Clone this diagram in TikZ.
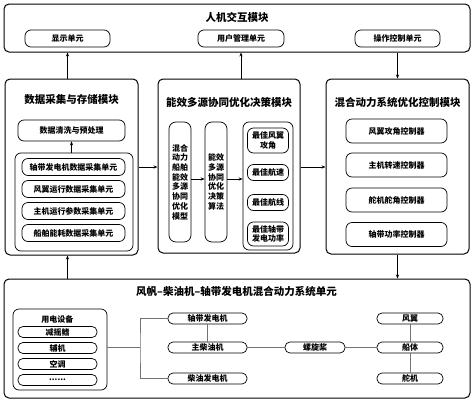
\documentclass[tikz,border=0pt]{standalone}
\usepackage{fontspec}
\setmainfont{Noto Sans CJK SC}
\usetikzlibrary{arrows.meta, positioning, calc}

\begin{document}
\begin{tikzpicture}[x=1pt, y=-1pt, >={Stealth[length=4pt,width=3.2pt]},
        every node/.style={inner sep=1pt, font=\fontsize{8}{9.7}\selectfont\bfseries},
        modbox/.style={draw, line width=1pt, rounded corners=5pt},
        unitbox/.style={draw, line width=0.7pt, rounded corners=6pt, align=center},
        pill/.style={draw, line width=0.7pt, rounded corners=5pt, minimum height=11, inner sep=0pt},
        heading/.style={font=\fontsize{10.5}{12}\selectfont\bfseries},
        wire/.style={draw=black!55, line width=0.5pt}]
        \useasboundingbox (0,0) rectangle (474,402);

        % Define human-machine module
        \node[modbox, minimum width=466, minimum height=48] (hmi) at (237,28) {};
        \node[heading] (hmiTitle) at (237,17) {人机交互模块};
        \node[unitbox, minimum width=85, minimum height=17] (dispUnit) at (67.5,38.5) {显示单元};
        \node[unitbox, minimum width=86, minimum height=17] (userUnit) at (241,38.5) {用户管理单元};
        \node[unitbox, minimum width=85, minimum height=17] (operUnit) at (397.5,38.5) {操作控制单元};

        % Define acquisition module on the left
        \node[modbox, minimum width=133, minimum height=176] (acq) at (71.5,167) {};
        \node[heading] (acqTitle) at (71.5,100) {数据采集与存储模块};
        \node[unitbox, minimum width=107, minimum height=21] (clean) at (71.5,130.5) {数据清洗与预处理};
        \node[unitbox, minimum width=118, minimum height=98] (acqGroup) at (74,202) {};
        \node[unitbox, minimum width=103, minimum height=17] (acqShaft) at (73.5,167) {轴带发电机数据采集单元};
        \node[unitbox, minimum width=103, minimum height=17] (acqWing) at (73.5,189) {风翼运行数据采集单元};
        \node[unitbox, minimum width=103, minimum height=17] (acqMain) at (73.5,211) {主机运行参数采集单元};
        \node[unitbox, minimum width=103, minimum height=17] (acqFuel) at (73.5,233) {船舶能耗数据采集单元};

        % Define decision module in the middle
        \node[modbox, minimum width=142, minimum height=174] (opt) at (229,166) {};
        \node[heading] (optTitle) at (229,102) {能效多源协同优化决策模块};
        \node[unitbox, rounded corners=7pt, minimum width=22, minimum height=120] (model) at (180,182) {混合\\动力\\船舶\\能效\\多源\\协同\\优化\\模型};
        \node[unitbox, rounded corners=7pt, minimum width=22, minimum height=120] (algo) at (216,182) {能效\\多源\\协同\\优化\\决策\\算法};
        \node[unitbox, minimum width=50, minimum height=128] (best) at (268,186) {};
        \node[unitbox, minimum width=41, minimum height=25] (bestWing) at (268,140.5) {最佳风翼\\攻角};
        \node[unitbox, minimum width=41, minimum height=16] (bestSpeed) at (268,172.5) {最佳航速};
        \node[unitbox, minimum width=41, minimum height=16] (bestRoute) at (268,202.5) {最佳航线};
        \node[unitbox, minimum width=41, minimum height=24] (bestPower) at (268,234) {最佳轴带\\发电功率};

        % Define control module on the right
        \node[modbox, minimum width=143, minimum height=175] (ctrl) at (397.5,166.5) {};
        \node[heading] (ctrlTitle) at (397.5,102) {混合动力系统优化控制模块};
        \node[unitbox, minimum width=101, minimum height=24] (ctrlWing) at (396.5,131) {风翼攻角控制器};
        \node[unitbox, minimum width=101, minimum height=24] (ctrlSpeed) at (396.5,165) {主机转速控制器};
        \node[unitbox, minimum width=101, minimum height=24] (ctrlRudder) at (396.5,200) {舵机舵角控制器};
        \node[unitbox, minimum width=101, minimum height=24] (ctrlPower) at (396.5,234.5) {轴带功率控制器};

        % Define hybrid power unit at the bottom
        \node[modbox, minimum width=466, minimum height=119] (hybrid) at (237,338.5) {};
        \node[heading] (hybridTitle) at (236.5,292) {风帆–柴油机–轴带发电机混合动力系统单元};
        \node[unitbox, minimum width=94, minimum height=81] (devGroup) at (60,349.5) {};
        \node (devTitle) at (57.5,319) {用电设备};
        \node[pill, minimum width=79] (devFin) at (57.5,332) {减摇鳍};
        \node[pill, minimum width=79] (devAux) at (57.5,348) {辅机};
        \node[pill, minimum width=79] (devAir) at (57.5,364) {空调};
        \node[pill, minimum width=79] (devMore) at (57.5,380) {......};
        \node[pill, minimum width=79] (shaftGen) at (207.5,318.5) {轴带发电机};
        \node[pill, minimum width=79] (mainEng) at (207.5,347.5) {主柴油机};
        \node[pill, minimum width=79] (dieselGen) at (207.5,378.5) {柴油发电机};
        \node[pill, minimum width=60] (prop) at (315,347.5) {螺旋桨};
        \node[pill, minimum width=66] (wing) at (410,318.5) {风翼};
        \node[pill, minimum width=66] (hull) at (410,347.5) {船体};
        \node[pill, minimum width=66] (rudder) at (410,378.5) {舵机};
        \coordinate (jn) at (140,347.5);

        % Draw arrows between the modules
        \draw[->, line width=0.8pt] (acq.north -| dispUnit) -- (hmi.south -| dispUnit);
        \draw[->, line width=0.8pt] (opt.north -| userUnit) -- (hmi.south -| userUnit);
        \draw[->, line width=0.8pt] (hmi.south -| operUnit) -- (ctrl.north -| operUnit);
        \draw[->, line width=0.8pt] (acq.east |- acqShaft) -- (opt.west |- acqShaft);
        \draw[->, line width=0.8pt] (opt.east |- acqShaft) -- (ctrl.west |- acqShaft);
        \draw[->, line width=0.8pt] (ctrl.south -| operUnit) -- (hybrid.north -| operUnit);
        \draw[->, line width=0.8pt] (hybrid.north -| dispUnit) -- (acq.south -| dispUnit);

        % Draw arrows inside the modules
        \draw[->, line width=0.8pt] (acqGroup.north -| clean) -- (clean.south);
        \draw[->, line width=0.8pt] ([yshift=3pt]model.east) -- ([yshift=3pt]algo.west);
        \draw[->, line width=0.8pt] ([yshift=3pt]algo.east) -- ([yshift=3pt]algo.east -| best.west);

        % Draw links of the power unit
        \draw[wire] (devGroup.east |- jn) -- (jn);
        \draw[wire] (shaftGen.west) -| (jn) |- (dieselGen.west);
        \draw[wire] (shaftGen) -- (mainEng);
        \draw[wire] (mainEng) -- (prop);
        \draw[wire] (prop) -- (hull);
        \draw[wire] (wing) -- (hull);
        \draw[wire] (hull) -- (rudder);
    \end{tikzpicture}
\end{document}
